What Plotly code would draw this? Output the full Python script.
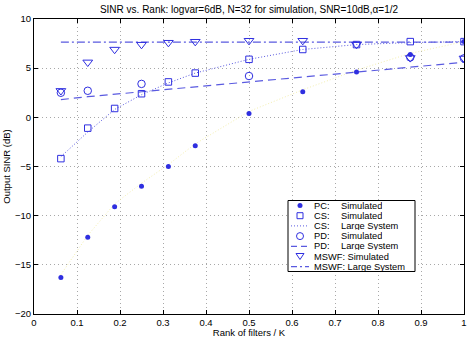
import plotly.graph_objects as go

# ---- data ----
rank = [1/16, 2/16, 3/16, 4/16, 5/16, 6/16, 8/16, 10/16, 12/16, 14/16, 16/16]
pc_sim = [-16.3, -12.2, -9.1, -7.0, -5.0, -2.9, 0.4, 2.6, 4.6, 6.4, 7.7]
pc_large = [-16.0, -12.0, -8.8, -6.7, -4.8, -2.7, 0.6, 2.8, 4.8, 6.5, 7.7]
cs_sim = [-4.2, -1.1, 0.9, 2.4, 3.6, 4.5, 5.9, 6.9, 7.4, 7.7, 7.7]
cs_large = [-4.0, -1.5, 0.8, 2.3, 3.5, 4.5, 5.9, 6.9, 7.4, 7.6, 7.7]
pd_rank = [1/16, 2/16, 4/16, 8/16, 14/16, 16/16]
pd_sim = [2.5, 2.7, 3.4, 4.2, 6.1, 6.0]
pd_large_rank = [1/16, 2/16, 4/16, 6/16, 8/16, 10/16, 12/16, 14/16, 16/16]
pd_large = [1.8, 2.1, 2.6, 3.1, 3.65, 4.1, 4.6, 5.1, 5.6]
mswf_sim = [2.7, 5.6, 6.9, 7.4, 7.6, 7.7, 7.8, 7.8, 7.4, 6.05, 6.0]
mswf_large = [7.65] * 11

x_ticks = [0, 0.1, 0.2, 0.3, 0.4, 0.5, 0.6, 0.7, 0.8, 0.9, 1]
x_tick_text = ["0", "0.1", "0.2", "0.3", "0.4", "0.5", "0.6", "0.7", "0.8", "0.9", "1"]
y_ticks = [-20, -15, -10, -5, 0, 5, 10]
y_tick_text = ["\u221220", "\u221215", "\u221210", "\u22125", "0", "5", "10"]

legend_labels = [("PC:", "Simulated"), ("CS:", "Simulated"), ("CS:", "Large System"),
                 ("PD:", "Simulated"), ("PD:", "Large System"),
                 ("MSWF: Simulated", None), ("MSWF: Large System", None)]

BLUE = "#2f2fe0"
LBLUE = "#5a5ae0"
FONT = "Liberation Sans, Arial, sans-serif"

fig = go.Figure()
fig.add_trace(go.Scatter(x=rank, y=pc_large, mode="lines",
                         line=dict(color="#f4efb0", width=1, dash="1px,2px"), showlegend=False))
fig.add_trace(go.Scatter(x=rank, y=cs_large, mode="lines",
                         line=dict(color=LBLUE, width=1, dash="1px,2px"), showlegend=False))
fig.add_trace(go.Scatter(x=pd_large_rank, y=pd_large, mode="lines",
                         line=dict(color=LBLUE, width=1.2, dash="8px,5px"), showlegend=False))
fig.add_trace(go.Scatter(x=rank, y=mswf_large, mode="lines",
                         line=dict(color=LBLUE, width=1.2, dash="8px,3px,2px,3px"), showlegend=False))
fig.add_trace(go.Scatter(x=rank, y=cs_sim, mode="markers",
                         marker=dict(symbol="square-open", size=6.5, color=BLUE, line=dict(width=1)),
                         showlegend=False))
fig.add_trace(go.Scatter(x=pd_rank, y=pd_sim, mode="markers",
                         marker=dict(symbol="circle-open", size=7.5, color=BLUE, line=dict(width=1)),
                         showlegend=False))
fig.add_trace(go.Scatter(x=rank, y=mswf_sim, mode="markers",
                         marker=dict(symbol="triangle-down-open", size=8.5, color=BLUE, line=dict(width=1)),
                         showlegend=False))
fig.add_trace(go.Scatter(x=rank, y=pc_sim, mode="markers",
                         marker=dict(symbol="circle", size=5, color=BLUE, line=dict(width=0)),
                         showlegend=False))

# ---- manual legend (MATLAB style) ----
def py(p):  # pixel y -> paper
    return (314 - p) / 295
def px(p):  # pixel x -> paper
    return (p - 34) / 430

shapes = [dict(type="rect", xref="paper", yref="paper", x0=px(288), x1=px(415),
               y0=py(271.5), y1=py(200.5), line=dict(color="black", width=1), fillcolor="white",
               layer="above")]
annotations = []
rows = [205.5 + 10.2 * i for i in range(7)]
for (a, b), r in zip(legend_labels, rows):
    annotations.append(dict(xref="paper", yref="paper", x=px(313), y=py(r), text=a,
                            showarrow=False, xanchor="left", yanchor="middle", height=8,
                            borderpad=0,
                            font=dict(size=9.3, family=FONT, color="black")))
    if b:
        annotations.append(dict(xref="paper", yref="paper", x=px(340), y=py(r), text=b,
                                showarrow=False, xanchor="left", yanchor="middle", height=8,
                                borderpad=0,
                                font=dict(size=9.3, family=FONT, color="black")))

mx = px(300)
def pshape(kind, r, **kw):
    d = dict(type=kind, xref="paper", yref="paper", xsizemode="pixel", ysizemode="pixel",
             xanchor=mx, yanchor=py(r), layer="above")
    d.update(kw)
    return d
shapes.append(pshape("circle", rows[0], x0=-2.5, x1=2.5, y0=-2.5, y1=2.5,
                     fillcolor=BLUE, line=dict(color=BLUE, width=0)))
shapes.append(pshape("rect", rows[1], x0=-3, x1=3, y0=-3, y1=3,
                     line=dict(color=BLUE, width=1)))
shapes.append(dict(type="line", xref="paper", yref="paper", x0=px(291), x1=px(309),
                   y0=py(rows[2]), y1=py(rows[2]), line=dict(color=LBLUE, width=1, dash="1px,2px"),
                   layer="above"))
shapes.append(pshape("circle", rows[3], x0=-3.5, x1=3.5, y0=-3.5, y1=3.5,
                     line=dict(color=BLUE, width=1)))
shapes.append(dict(type="line", xref="paper", yref="paper", x0=px(291), x1=px(309),
                   y0=py(rows[4]), y1=py(rows[4]), line=dict(color=LBLUE, width=1.2, dash="6px,4px"),
                   layer="above"))
shapes.append(pshape("path", rows[5], path="M -4 3 L 4 3 L 0 -3 Z",
                     line=dict(color=BLUE, width=1)))
shapes.append(dict(type="line", xref="paper", yref="paper", x0=px(291), x1=px(309),
                   y0=py(rows[6]), y1=py(rows[6]), line=dict(color=LBLUE, width=1.2, dash="6px,3px,2px,3px"),
                   layer="above"))

fig.update_layout(
    width=474, height=338,
    margin=dict(l=34, r=10, t=19, b=24, autoexpand=False),
    paper_bgcolor="white", plot_bgcolor="white",
    font=dict(family=FONT, size=9.5, color="black"),
    title=dict(text="SINR vs. Rank: logvar=6dB, N=32 for simulation, SNR=10dB,\u03b1=1/2",
               x=0.5, xref="paper", y=1 - 9 / 338, yanchor="middle",
               font=dict(size=10, family=FONT)),
    shapes=shapes, annotations=annotations,
)
fig.update_xaxes(range=[0, 1], tickvals=x_ticks, ticktext=x_tick_text, automargin=False,
                 showline=True, linecolor="black", linewidth=1, mirror="allticks",
                 ticks="inside", ticklen=4, tickcolor="black",
                 showgrid=True, gridcolor="#a8a8a8", griddash="1px,3px", gridwidth=1,
                 zeroline=False,
                 title=dict(text="Rank of filters / K", standoff=2, font=dict(size=9.5)))
fig.update_yaxes(range=[-20, 10], tickvals=y_ticks, ticktext=y_tick_text, automargin=False,
                 showline=True, linecolor="black", linewidth=1, mirror="allticks",
                 ticks="inside", ticklen=4, tickcolor="black",
                 showgrid=True, gridcolor="#a8a8a8", griddash="1px,3px", gridwidth=1,
                 zeroline=False,
                 title=dict(text="Output SINR (dB)", standoff=2, font=dict(size=9.5)))

fig.write_html("out.html")
